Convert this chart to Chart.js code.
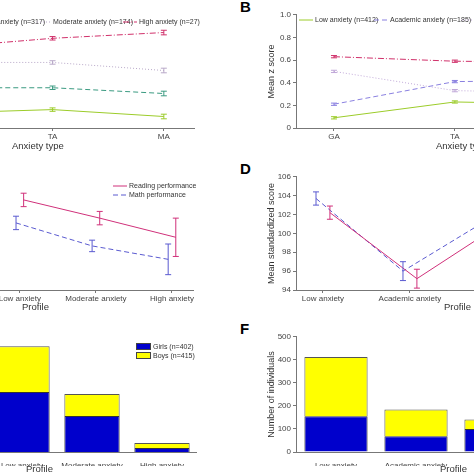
<!DOCTYPE html>
<html>
<head>
<meta charset="utf-8">
<script src="https://cdn.jsdelivr.net/npm/chart.js@4/dist/chart.umd.min.js"></script>
<style>
  body { margin: 0; width: 474px; height: 474px; overflow: hidden; position: relative; background: #fff; font-family: "Liberation Sans", Arial, sans-serif; }
  canvas { position: absolute; }
  .t { position: absolute; color: #333; white-space: nowrap; }
  .lt { font-size: 9.5px; }
  .big { font-size: 15px; font-weight: bold; color: #000; }
  .lg { position: absolute; font-size: 7px; color: #333; white-space: nowrap; display: flex; align-items: center; }
  .lg svg { margin-right: 2px; }
  .box { display: inline-block; width: 15px; height: 7px; border: 1px solid #444; margin-right: 2px; box-sizing: border-box; }
</style>
</head>
<body>
<canvas id="cA"></canvas>
<canvas id="cB"></canvas>
<canvas id="cC"></canvas>
<canvas id="cD"></canvas>
<canvas id="cE"></canvas>
<canvas id="cF"></canvas>
<script>
// panel A / B: mean z score by anxiety type
const anxietyTypes = ["GA", "TA", "MA"];
const aAcademic = [0.35, 0.35, 0.30];
const aLow = [0.13, 0.16, 0.10];
const aModerate = [0.57, 0.57, 0.50];
const aHigh = [0.70, 0.78, 0.83];
const aErr = [0.015, 0.015, 0.02];

const bLow = [0.09, 0.23, 0.21];
const bAcademic = [0.21, 0.41, 0.42];
const bModerate = [0.50, 0.33, 0.31];
const bHigh = [0.63, 0.59, 0.58];
const bErr = [0.01, 0.01, 0.01];

// panel C / D: standardized scores
const profilesC = ["Low anxiety", "Moderate anxiety", "High anxiety"];
const cReading = [103.4, 101.5, 99.5];
const cReadingErr = [0.7, 0.7, 2.0];
const cMath = [101.0, 98.6, 97.2];
const cMathErr = [0.7, 0.6, 1.6];

const profilesD = ["Low anxiety", "Academic anxiety", "High anxiety"];
const dReading = [102.2, 95.2, 101.2];
const dReadingErr = [0.7, 1.0, 1.0];
const dMath = [103.7, 96.0, 101.6];
const dMathErr = [0.7, 1.0, 1.0];

// panel E / F: number of individuals
const eGirls = [180, 108, 12];
const eBoys = [137, 66, 15];
const fGirls = [155, 68, 100];
const fBoys = [257, 117, 41];

const tickFont = { family: "Liberation Sans", size: 8 };
const tickColor = "#444";
const axisColor = "#777";

const errorBars = {
  id: "errorBars",
  afterDatasetsDraw(chart) {
    const ctx = chart.ctx;
    const ys = chart.scales.y;
    chart.data.datasets.forEach((ds, di) => {
      if (!ds.err) return;
      const meta = chart.getDatasetMeta(di);
      ctx.save();
      ctx.strokeStyle = ds.errColor || ds.borderColor;
      ctx.lineWidth = 1;
      meta.data.forEach((pt, i) => {
        const v = ds.data[i].y;
        const top = ys.getPixelForValue(v + ds.err[i]);
        const bot = ys.getPixelForValue(v - ds.err[i]);
        ctx.beginPath();
        ctx.moveTo(pt.x, top); ctx.lineTo(pt.x, bot);
        ctx.moveTo(pt.x - 3, top); ctx.lineTo(pt.x + 3, top);
        ctx.moveTo(pt.x - 3, bot); ctx.lineTo(pt.x + 3, bot);
        ctx.stroke();
      });
      ctx.restore();
    });
  }
};

function place(id, l, t, w, h) {
  const c = document.getElementById(id);
  c.width = w; c.height = h;
  c.style.left = l + "px"; c.style.top = t + "px";
  c.style.width = w + "px"; c.style.height = h + "px";
  return c;
}

function pts(vals, shift) {
  return vals.map((v, i) => ({ x: i + (shift || 0), y: v }));
}

function lineDs(vals, color, dash, err, shift, width) {
  return {
    data: pts(vals, shift), err: err, borderColor: color, borderDash: dash,
    borderWidth: width || 1, pointRadius: 0, clip: false, tension: 0
  };
}

function xLinear(min, max, labels) {
  return {
    type: "linear", min: min, max: max,
    afterBuildTicks: s => { s.ticks = labels.map((_, i) => ({ value: i })); },
    afterFit: s => { s.height = 14; },
    ticks: { font: tickFont, color: tickColor, padding: 1, maxRotation: 0, callback: v => labels[v] },
    grid: { display: true, drawOnChartArea: false, tickLength: 3, color: axisColor },
    border: { color: axisColor }
  };
}

function yAxis(show, min, max, step, title) {
  return {
    display: show, min: min, max: max,
    afterFit: s => { s.width = 30; },
    ticks: { font: tickFont, color: tickColor, stepSize: step, padding: 2 },
    grid: { display: true, drawOnChartArea: false, tickLength: 3, color: axisColor },
    border: { color: axisColor },
    title: { display: !!title, text: title, font: { family: "Liberation Sans", size: 9 }, color: "#333", padding: 0 }
  };
}

const base = {
  responsive: false, animation: false,
  layout: { padding: 0 },
  plugins: { legend: { display: false }, tooltip: { enabled: false } }
};

function lineChart(id, datasets, x, y) {
  return new Chart(document.getElementById(id), {
    type: "line",
    data: { datasets: datasets },
    options: Object.assign({}, base, { scales: { x: x, y: y } }),
    plugins: [errorBars]
  });
}

// A
place("cA", -111, 13, 306, 129);
lineChart("cA", [
  lineDs(aLow, "#9ccc2a", [], aErr),
  lineDs(aAcademic, "#3a9a80", [5, 3], aErr),
  lineDs(aModerate, "#b8a8c8", [1, 2], aErr, 0, 1),
  lineDs(aHigh, "#d0306a", [6, 2, 1, 2], aErr)
], xLinear(-0.2, 2.28, anxietyTypes), yAxis(false, 0, 1, 0.2));

// B
place("cB", 266, 8, 346, 134);
lineChart("cB", [
  lineDs(bLow, "#9ccc2a", [], bErr),
  lineDs(bAcademic, "#8a80e0", [5, 3], bErr),
  lineDs(bModerate, "#c0a8d8", [1, 2], bErr),
  lineDs(bHigh, "#d0306a", [6, 2, 1, 2], bErr)
], xLinear(-0.314, 2.3, anxietyTypes), yAxis(true, 0, 1, 0.2, "Mean z score"));

// C
place("cC", -33, 175, 228, 129);
lineChart("cC", [
  lineDs(cReading, "#d0307a", [], cReadingErr, 0.05),
  lineDs(cMath, "#5a5ad0", [5, 3], cMathErr, -0.05)
], xLinear(-0.3, 2.28, profilesC), yAxis(false, 94, 106, 2));

// D
place("cD", 266, 170, 257, 134);
lineChart("cD", [
  lineDs(dReading, "#d0307a", [], dReadingErr, 0.08),
  lineDs(dMath, "#5a5ad0", [5, 3], dMathErr, -0.08)
], xLinear(-0.31, 2.3, profilesD), yAxis(true, 94, 106, 2, "Mean standardized score"));

// E / F
function barChart(id, labels, girls, boys, y) {
  const x = {
    stacked: true, offset: true,
    afterFit: s => { s.height = 14; },
    ticks: { font: tickFont, color: tickColor, padding: 1, maxRotation: 0, autoSkip: false },
    grid: { display: false },
    border: { color: axisColor }
  };
  y.stacked = true;
  return new Chart(document.getElementById(id), {
    type: "bar",
    data: {
      labels: labels,
      datasets: [
        { data: girls, backgroundColor: "#0000cc", borderColor: "#333", borderWidth: 1, barPercentage: 0.79, categoryPercentage: 1 },
        { data: boys, backgroundColor: "#ffff00", borderColor: "#555", borderWidth: 1, barPercentage: 0.79, categoryPercentage: 1 }
      ]
    },
    options: Object.assign({}, base, { scales: { x: x, y: y } })
  });
}
place("cE", -43, 340, 240, 126);
barChart("cE", profilesC, eGirls, eBoys, yAxis(false, 0, 336, 100));
place("cF", 266, 330, 270, 136);
barChart("cF", profilesD, fGirls, fBoys, yAxis(true, 0, 500, 100, "Number of individuals"));

// text overlays
function text(cls, str, l, t) {
  const d = document.createElement("div");
  d.className = cls; d.textContent = str;
  d.style.left = l + "px"; d.style.top = t + "px";
  document.body.appendChild(d);
}
function sw(color, dash) {
  return '<svg width="14" height="4"><line x1="0" y1="2" x2="14" y2="2" stroke="' + color +
    '" stroke-width="1" stroke-dasharray="' + dash + '"/></svg>';
}
function legend(l, t, color, dash, str, box) {
  const d = document.createElement("div");
  d.className = "lg";
  d.style.left = l + "px"; d.style.top = t + "px";
  d.innerHTML = (box ? '<span class="box" style="background:' + color + '"></span>' : sw(color, dash)) + "<span></span>";
  d.lastChild.textContent = str;
  document.body.appendChild(d);
}

text("t big", "B", 240, -2);
text("t big", "D", 240, 160);
text("t big", "F", 240, 320);
text("t lt", "Anxiety type", 12, 140);
text("t lt", "Anxiety type", 436, 140);
text("t lt", "Profile", 22, 301);
text("t lt", "Profile", 444, 301);
text("t lt", "Profile", 26, 463);
text("t lt", "Profile", 440, 463);

legend(-52, 18, "#3a9a80", "5,3", "Academic anxiety (n=317)");
legend(37, 18, "#b8a8c8", "1,2", "Moderate anxiety (n=174)");
legend(123, 18, "#d0306a", "6,2,1,2", "High anxiety (n=27)");
legend(299, 16, "#9ccc2a", "", "Low anxiety (n=412)");
legend(374, 16, "#8a80e0", "5,3", "Academic anxiety (n=185)");
legend(462, 16, "#c0a8d8", "1,2", "Moderate anxiety (n=220)");
legend(113, 182, "#d0307a", "", "Reading performance");
legend(113, 191, "#5a5ad0", "5,3", "Math performance");
legend(136, 343, "#0000cc", "", "Girls (n=402)", true);
legend(136, 352, "#ffff00", "", "Boys (n=415)", true);
</script>
</body>
</html>
